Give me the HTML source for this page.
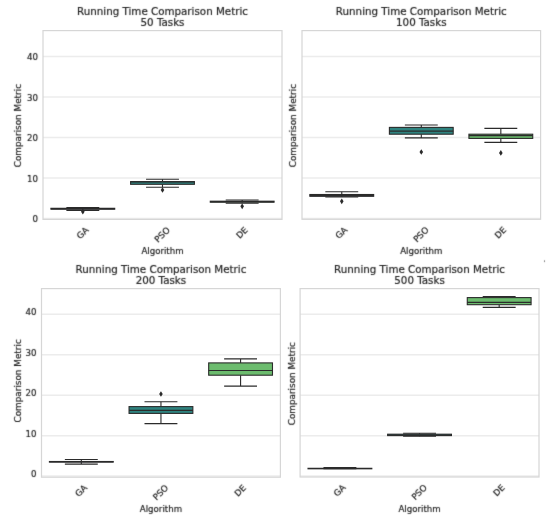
<!DOCTYPE html><html><head><meta charset="utf-8"><title>Running Time Comparison Metric</title>
<style>html,body{margin:0;padding:0;background:#fff;}svg{display:block;}text{font-family:"DejaVu Sans", "Liberation Sans", sans-serif;fill:#262626;stroke:#262626;stroke-width:0.2px;}</style></head><body>
<svg width="550" height="517" viewBox="0 0 550 517">
<defs><filter id="bl" x="0" y="0" width="550" height="517" filterUnits="userSpaceOnUse"><feConvolveMatrix order="3" kernelMatrix="0.01134 0.08382 0.01134 0.08382 0.61935 0.08382 0.01134 0.08382 0.01134" edgeMode="none"/></filter></defs>
<rect width="550" height="517" fill="#fff"/>
<line x1="43.00" y1="218.40" x2="282.00" y2="218.40" stroke="#ececec" stroke-width="1.5"/>
<line x1="43.00" y1="177.95" x2="282.00" y2="177.95" stroke="#ececec" stroke-width="1.5"/>
<line x1="43.00" y1="137.50" x2="282.00" y2="137.50" stroke="#ececec" stroke-width="1.5"/>
<line x1="43.00" y1="97.05" x2="282.00" y2="97.05" stroke="#ececec" stroke-width="1.5"/>
<line x1="43.00" y1="56.60" x2="282.00" y2="56.60" stroke="#ececec" stroke-width="1.5"/>
<rect x="43.00" y="30.60" width="239.00" height="188.80" fill="none" stroke="#d6d6d6" stroke-width="1.2"/>
<path d="M82.83 207.60V208.30M82.83 209.20V210.40" stroke="#2b2b2b" stroke-width="1.1" fill="none"/>
<path d="M66.93 207.60H98.73M66.93 210.40H98.73" stroke="#2b2b2b" stroke-width="1.1" stroke-linecap="square" fill="none"/>
<rect x="50.93" y="208.30" width="63.80" height="0.90" fill="#3d3d5c" stroke="#2b2b2b" stroke-width="1.1"/>
<path d="M50.93 208.70H114.73" stroke="#2b2b2b" stroke-width="1.1"/>
<polygon points="82.83,208.85 84.63,211.70 82.83,214.55 81.03,211.70" fill="#2b2b2b"/>
<path d="M162.50 179.30V181.60M162.50 184.30V187.20" stroke="#2b2b2b" stroke-width="1.1" fill="none"/>
<path d="M146.60 179.30H178.40M146.60 187.20H178.40" stroke="#2b2b2b" stroke-width="1.1" stroke-linecap="square" fill="none"/>
<rect x="130.60" y="181.60" width="63.80" height="2.70" fill="#2e837f" stroke="#2b2b2b" stroke-width="1.1"/>
<path d="M130.60 182.00H194.40" stroke="#2b2b2b" stroke-width="1.1"/>
<polygon points="162.50,187.15 164.30,190.00 162.50,192.85 160.70,190.00" fill="#2b2b2b"/>
<path d="M242.17 200.00V201.20M242.17 202.20V203.30" stroke="#2b2b2b" stroke-width="1.1" fill="none"/>
<path d="M226.27 200.00H258.07M226.27 203.30H258.07" stroke="#2b2b2b" stroke-width="1.1" stroke-linecap="square" fill="none"/>
<rect x="210.27" y="201.20" width="63.80" height="1.00" fill="#6cbc6e" stroke="#2b2b2b" stroke-width="1.1"/>
<path d="M210.27 201.70H274.07" stroke="#2b2b2b" stroke-width="1.1"/>
<polygon points="242.17,203.45 243.97,206.30 242.17,209.15 240.37,206.30" fill="#2b2b2b"/>
<line x1="302.00" y1="218.40" x2="540.60" y2="218.40" stroke="#ececec" stroke-width="1.5"/>
<line x1="302.00" y1="177.95" x2="540.60" y2="177.95" stroke="#ececec" stroke-width="1.5"/>
<line x1="302.00" y1="137.50" x2="540.60" y2="137.50" stroke="#ececec" stroke-width="1.5"/>
<line x1="302.00" y1="97.05" x2="540.60" y2="97.05" stroke="#ececec" stroke-width="1.5"/>
<line x1="302.00" y1="56.60" x2="540.60" y2="56.60" stroke="#ececec" stroke-width="1.5"/>
<rect x="302.00" y="30.60" width="238.60" height="188.70" fill="none" stroke="#d6d6d6" stroke-width="1.2"/>
<path d="M341.77 191.80V194.50M341.77 196.30V197.00" stroke="#2b2b2b" stroke-width="1.1" fill="none"/>
<path d="M325.87 191.80H357.67M325.87 197.00H357.67" stroke="#2b2b2b" stroke-width="1.1" stroke-linecap="square" fill="none"/>
<rect x="309.87" y="194.50" width="63.80" height="1.80" fill="#3d3d5c" stroke="#2b2b2b" stroke-width="1.1"/>
<path d="M309.87 195.40H373.67" stroke="#2b2b2b" stroke-width="1.1"/>
<polygon points="341.77,198.45 343.57,201.30 341.77,204.15 339.97,201.30" fill="#2b2b2b"/>
<path d="M421.30 125.00V127.40M421.30 134.20V137.90" stroke="#2b2b2b" stroke-width="1.1" fill="none"/>
<path d="M405.40 125.00H437.20M405.40 137.90H437.20" stroke="#2b2b2b" stroke-width="1.1" stroke-linecap="square" fill="none"/>
<rect x="389.40" y="127.40" width="63.80" height="6.80" fill="#2e837f" stroke="#2b2b2b" stroke-width="1.1"/>
<path d="M389.40 131.10H453.20" stroke="#2b2b2b" stroke-width="1.1"/>
<polygon points="421.30,149.15 423.10,152.00 421.30,154.85 419.50,152.00" fill="#2b2b2b"/>
<path d="M500.83 128.40V134.20M500.83 138.40V142.40" stroke="#2b2b2b" stroke-width="1.1" fill="none"/>
<path d="M484.93 128.40H516.73M484.93 142.40H516.73" stroke="#2b2b2b" stroke-width="1.1" stroke-linecap="square" fill="none"/>
<rect x="468.93" y="134.20" width="63.80" height="4.20" fill="#6cbc6e" stroke="#2b2b2b" stroke-width="1.1"/>
<path d="M468.93 135.60H532.73" stroke="#2b2b2b" stroke-width="1.1"/>
<polygon points="500.83,150.05 502.63,152.90 500.83,155.75 499.03,152.90" fill="#2b2b2b"/>
<line x1="41.50" y1="476.10" x2="280.40" y2="476.10" stroke="#ececec" stroke-width="1.5"/>
<line x1="41.50" y1="435.65" x2="280.40" y2="435.65" stroke="#ececec" stroke-width="1.5"/>
<line x1="41.50" y1="395.20" x2="280.40" y2="395.20" stroke="#ececec" stroke-width="1.5"/>
<line x1="41.50" y1="354.75" x2="280.40" y2="354.75" stroke="#ececec" stroke-width="1.5"/>
<line x1="41.50" y1="314.30" x2="280.40" y2="314.30" stroke="#ececec" stroke-width="1.5"/>
<rect x="41.50" y="288.60" width="238.90" height="188.60" fill="none" stroke="#d6d6d6" stroke-width="1.2"/>
<path d="M81.32 459.50V461.50M81.32 462.10V464.10" stroke="#2b2b2b" stroke-width="1.1" fill="none"/>
<path d="M65.42 459.50H97.22M65.42 464.10H97.22" stroke="#2b2b2b" stroke-width="1.1" stroke-linecap="square" fill="none"/>
<rect x="49.42" y="461.50" width="63.80" height="0.60" fill="#3d3d5c" stroke="#2b2b2b" stroke-width="1.1"/>
<path d="M49.42 461.80H113.22" stroke="#2b2b2b" stroke-width="1.1"/>
<path d="M160.95 401.80V406.60M160.95 413.40V423.60" stroke="#2b2b2b" stroke-width="1.1" fill="none"/>
<path d="M145.05 401.80H176.85M145.05 423.60H176.85" stroke="#2b2b2b" stroke-width="1.1" stroke-linecap="square" fill="none"/>
<rect x="129.05" y="406.60" width="63.80" height="6.80" fill="#2e837f" stroke="#2b2b2b" stroke-width="1.1"/>
<path d="M129.05 410.40H192.85" stroke="#2b2b2b" stroke-width="1.1"/>
<polygon points="160.95,391.15 162.75,394.00 160.95,396.85 159.15,394.00" fill="#2b2b2b"/>
<path d="M240.58 358.90V362.90M240.58 375.20V386.10" stroke="#2b2b2b" stroke-width="1.1" fill="none"/>
<path d="M224.68 358.90H256.48M224.68 386.10H256.48" stroke="#2b2b2b" stroke-width="1.1" stroke-linecap="square" fill="none"/>
<rect x="208.68" y="362.90" width="63.80" height="12.30" fill="#6cbc6e" stroke="#2b2b2b" stroke-width="1.1"/>
<path d="M208.68 370.50H272.48" stroke="#2b2b2b" stroke-width="1.1"/>
<line x1="300.10" y1="476.10" x2="539.00" y2="476.10" stroke="#ececec" stroke-width="1.5"/>
<line x1="300.10" y1="435.65" x2="539.00" y2="435.65" stroke="#ececec" stroke-width="1.5"/>
<line x1="300.10" y1="395.20" x2="539.00" y2="395.20" stroke="#ececec" stroke-width="1.5"/>
<line x1="300.10" y1="354.75" x2="539.00" y2="354.75" stroke="#ececec" stroke-width="1.5"/>
<line x1="300.10" y1="314.30" x2="539.00" y2="314.30" stroke="#ececec" stroke-width="1.5"/>
<rect x="300.10" y="288.60" width="238.90" height="188.40" fill="none" stroke="#d6d6d6" stroke-width="1.2"/>
<path d="M339.92 467.50V468.30M339.92 468.80V468.80" stroke="#2b2b2b" stroke-width="1.1" fill="none"/>
<path d="M324.02 467.50H355.82M324.02 468.80H355.82" stroke="#2b2b2b" stroke-width="1.1" stroke-linecap="square" fill="none"/>
<rect x="308.02" y="468.30" width="63.80" height="0.50" fill="#3d3d5c" stroke="#2b2b2b" stroke-width="1.1"/>
<path d="M308.02 468.50H371.82" stroke="#2b2b2b" stroke-width="1.1"/>
<path d="M419.55 433.30V434.20M419.55 435.60V436.30" stroke="#2b2b2b" stroke-width="1.1" fill="none"/>
<path d="M403.65 433.30H435.45M403.65 436.30H435.45" stroke="#2b2b2b" stroke-width="1.1" stroke-linecap="square" fill="none"/>
<rect x="387.65" y="434.20" width="63.80" height="1.40" fill="#2e837f" stroke="#2b2b2b" stroke-width="1.1"/>
<path d="M387.65 435.00H451.45" stroke="#2b2b2b" stroke-width="1.1"/>
<path d="M499.18 296.50V297.60M499.18 304.70V307.40" stroke="#2b2b2b" stroke-width="1.1" fill="none"/>
<path d="M483.28 296.50H515.08M483.28 307.40H515.08" stroke="#2b2b2b" stroke-width="1.1" stroke-linecap="square" fill="none"/>
<rect x="467.28" y="297.60" width="63.80" height="7.10" fill="#6cbc6e" stroke="#2b2b2b" stroke-width="1.1"/>
<path d="M467.28 302.40H531.08" stroke="#2b2b2b" stroke-width="1.1"/>
<g filter="url(#bl)">
<text x="162.50" y="14.50" font-size="10.3" text-anchor="middle">Running Time Comparison Metric</text>
<text x="162.50" y="26.40" font-size="10.3" text-anchor="middle">50 Tasks</text>
<text transform="translate(21.20,125.60) rotate(-90)" font-size="8.85" text-anchor="middle">Comparison Metric</text>
<text x="162.50" y="254.00" font-size="8.65" text-anchor="middle">Algorithm</text>
<text x="38.00" y="222.10" font-size="8.65" text-anchor="end">0</text>
<text x="38.00" y="181.65" font-size="8.65" text-anchor="end">10</text>
<text x="38.00" y="141.20" font-size="8.65" text-anchor="end">20</text>
<text x="38.00" y="100.75" font-size="8.65" text-anchor="end">30</text>
<text x="38.00" y="60.30" font-size="8.65" text-anchor="end">40</text>
<text transform="translate(84.63,235.02) rotate(-45)" font-size="8.65" text-anchor="middle">GA</text>
<text transform="translate(164.30,236.75) rotate(-45)" font-size="8.65" text-anchor="middle">PSO</text>
<text transform="translate(243.97,234.84) rotate(-45)" font-size="8.65" text-anchor="middle">DE</text>
<text x="421.30" y="14.50" font-size="10.3" text-anchor="middle">Running Time Comparison Metric</text>
<text x="421.30" y="26.40" font-size="10.3" text-anchor="middle">100 Tasks</text>
<text transform="translate(296.20,125.60) rotate(-90)" font-size="8.85" text-anchor="middle">Comparison Metric</text>
<text x="421.30" y="253.90" font-size="8.65" text-anchor="middle">Algorithm</text>
<text transform="translate(343.57,234.92) rotate(-45)" font-size="8.65" text-anchor="middle">GA</text>
<text transform="translate(423.10,236.65) rotate(-45)" font-size="8.65" text-anchor="middle">PSO</text>
<text transform="translate(502.63,234.74) rotate(-45)" font-size="8.65" text-anchor="middle">DE</text>
<text x="160.95" y="272.50" font-size="10.3" text-anchor="middle">Running Time Comparison Metric</text>
<text x="160.95" y="284.40" font-size="10.3" text-anchor="middle">200 Tasks</text>
<text transform="translate(20.70,380.85) rotate(-90)" font-size="8.85" text-anchor="middle">Comparison Metric</text>
<text x="160.95" y="511.80" font-size="8.65" text-anchor="middle">Algorithm</text>
<text x="36.50" y="477.20" font-size="8.65" text-anchor="end">0</text>
<text x="36.50" y="436.75" font-size="8.65" text-anchor="end">10</text>
<text x="36.50" y="396.30" font-size="8.65" text-anchor="end">20</text>
<text x="36.50" y="355.85" font-size="8.65" text-anchor="end">30</text>
<text x="36.50" y="315.40" font-size="8.65" text-anchor="end">40</text>
<text transform="translate(83.12,492.82) rotate(-45)" font-size="8.65" text-anchor="middle">GA</text>
<text transform="translate(162.75,494.55) rotate(-45)" font-size="8.65" text-anchor="middle">PSO</text>
<text transform="translate(242.38,492.64) rotate(-45)" font-size="8.65" text-anchor="middle">DE</text>
<text x="419.55" y="272.50" font-size="10.3" text-anchor="middle">Running Time Comparison Metric</text>
<text x="419.55" y="284.40" font-size="10.3" text-anchor="middle">500 Tasks</text>
<text transform="translate(295.20,383.65) rotate(-90)" font-size="8.85" text-anchor="middle">Comparison Metric</text>
<text x="419.55" y="511.60" font-size="8.65" text-anchor="middle">Algorithm</text>
<text transform="translate(341.72,492.62) rotate(-45)" font-size="8.65" text-anchor="middle">GA</text>
<text transform="translate(421.35,494.35) rotate(-45)" font-size="8.65" text-anchor="middle">PSO</text>
<text transform="translate(500.98,492.44) rotate(-45)" font-size="8.65" text-anchor="middle">DE</text>
<rect x="544" y="260.3" width="0.9" height="1.8" fill="#777"/>
</g></svg></body></html>
